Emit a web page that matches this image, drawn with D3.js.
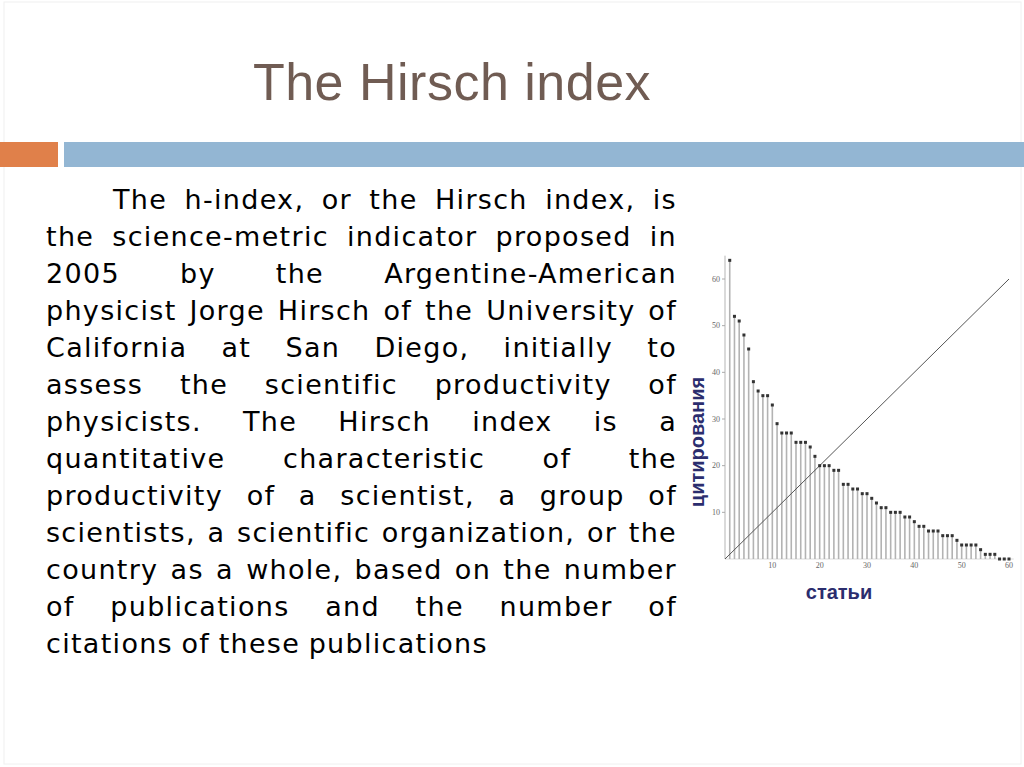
<!DOCTYPE html>
<html>
<head>
<meta charset="utf-8">
<script src="https://cdn.jsdelivr.net/npm/d3@7"></script>
<style>
  html, body { margin: 0; padding: 0; background: #fff; }
  svg { display: block; }
</style>
</head>
<body>
<svg id="slide" width="1024" height="767"></svg>
<script>
//data
const papers = d3.range(1, 61);
const citations = [64, 52, 51, 48, 45, 38, 36, 35, 35, 33,
                   29, 27, 27, 27, 25, 25, 25, 24, 22, 20,
                   20, 20, 19, 19, 16, 16, 15, 15, 14, 14,
                   13, 12, 11, 11, 10, 10, 10, 9, 9, 8,
                   7, 7, 6, 6, 6, 5, 5, 5, 4, 3,
                   3, 3, 3, 2, 1, 1, 1, 0, 0, 0];
const xTicks = [10, 20, 30, 40, 50, 60];
const yTicks = [10, 20, 30, 40, 50, 60];
const diagonal = [0, 60];
const title = "The Hirsch index";
const xLabel = "статьи";
const yLabel = "цитирования";
const textLines = [
  "The h-index, or the Hirsch index, is",
  "the science-metric indicator proposed in",
  "2005 by the Argentine-American",
  "physicist Jorge Hirsch of the University of",
  "California at San Diego, initially to",
  "assess the scientific productivity of",
  "physicists. The Hirsch index is a",
  "quantitative characteristic of the",
  "productivity of a scientist, a group of",
  "scientists, a scientific organization, or the",
  "country as a whole, based on the number",
  "of publications and the number of",
  "citations of these publications"
];

const svg = d3.select("#slide");

// faint slide frame
svg.append("rect")
  .attr("x", 4).attr("y", 2).attr("width", 1017).attr("height", 762)
  .attr("fill", "none").attr("stroke", "#f0f0f0").attr("stroke-width", 1);

// title + header bars
svg.append("text")
  .attr("x", 452).attr("y", 100)
  .attr("text-anchor", "middle")
  .attr("font-family", "'Liberation Sans', Arial, sans-serif")
  .attr("font-size", 52)
  .attr("letter-spacing", 0.5)
  .attr("fill", "#705c53")
  .text(title);

svg.append("rect").attr("x", 0).attr("y", 142).attr("width", 58).attr("height", 25).attr("fill", "#e0804a");
svg.append("rect").attr("x", 64).attr("y", 142).attr("width", 960).attr("height", 25).attr("fill", "#93b6d3");

// body text, justified line by line
const textLeft = 46, textRight = 677, indent = 113, firstBase = 209, lineGap = 37;
const lastLineWidth = 446; // width of the closing line in the slide
const body = svg.append("g")
  .attr("font-family", "'DejaVu Sans', sans-serif")
  .attr("font-size", 27)
  .attr("fill", "#000");

// widen letters a little so the closing line matches the slide
const probe = body.append("text").text(textLines[textLines.length - 1]);
const natural = probe.node().getComputedTextLength();
probe.remove();
const spacing = (lastLineWidth - natural) / textLines[textLines.length - 1].length;
body.attr("letter-spacing", spacing);

textLines.forEach((line, i) => {
  const words = line.split(" ");
  const y = firstBase + i * lineGap;
  const startX = i === 0 ? indent : textLeft;
  const nodes = words.map(w => body.append("text").attr("y", y).text(w));
  const widths = nodes.map(n => n.node().getComputedTextLength());
  const total = d3.sum(widths);
  let gap = 8.5;
  if (i < textLines.length - 1 && words.length > 1) {
    gap = (textRight - startX - total) / (words.length - 1);
  }
  let x = startX;
  nodes.forEach((n, k) => {
    n.attr("x", x);
    x += widths[k] + gap;
  });
});

// chart
const x = d3.scaleLinear().domain([0, 60]).range([725, 1009]);
const y = d3.scaleLinear().domain([0, 60]).range([559, 279]);

const chart = svg.append("g");

// y axis
chart.append("line")
  .attr("x1", x(0)).attr("x2", x(0))
  .attr("y1", y(0)).attr("y2", y(65))
  .attr("stroke", "#b5b5b5").attr("stroke-width", 1);

// x axis baseline
chart.append("line")
  .attr("x1", x(0)).attr("x2", x(61))
  .attr("y1", y(0)).attr("y2", y(0))
  .attr("stroke", "#dcdcdc").attr("stroke-width", 1);

chart.selectAll(".ytick")
  .data(yTicks)
  .enter()
  .append("line")
  .attr("class", "ytick")
  .attr("x1", x(0) - 3).attr("x2", x(0))
  .attr("y1", d => y(d)).attr("y2", d => y(d))
  .attr("stroke", "#aaa");

chart.selectAll(".ylab")
  .data(yTicks)
  .enter()
  .append("text")
  .attr("class", "ylab")
  .attr("x", x(0) - 5)
  .attr("y", d => y(d))
  .attr("dy", "0.35em")
  .attr("text-anchor", "end")
  .attr("font-family", "'Liberation Serif', 'DejaVu Serif', serif")
  .attr("font-size", 8)
  .attr("fill", "#666")
  .text(d => d);

chart.selectAll(".xlab")
  .data(xTicks)
  .enter()
  .append("text")
  .attr("class", "xlab")
  .attr("x", d => x(d))
  .attr("y", y(0) + 9)
  .attr("text-anchor", "middle")
  .attr("font-family", "'Liberation Serif', 'DejaVu Serif', serif")
  .attr("font-size", 8)
  .attr("fill", "#666")
  .text(d => d);

// stems
chart.selectAll(".stem")
  .data(citations)
  .enter()
  .append("line")
  .attr("class", "stem")
  .attr("x1", (d, i) => x(papers[i])).attr("x2", (d, i) => x(papers[i]))
  .attr("y1", y(0)).attr("y2", d => y(d))
  .attr("stroke", "#b3b3b3").attr("stroke-width", 1.6);

// h = n diagonal
chart.append("line")
  .attr("x1", x(diagonal[0])).attr("y1", y(diagonal[0]))
  .attr("x2", x(diagonal[1])).attr("y2", y(diagonal[1]))
  .attr("stroke", "#555").attr("stroke-width", 1);

// points
chart.selectAll(".pt")
  .data(citations)
  .enter()
  .append("rect")
  .attr("class", "pt")
  .attr("x", (d, i) => x(papers[i]) - 1.5)
  .attr("y", d => y(d) - 1.5)
  .attr("width", 3).attr("height", 3)
  .attr("fill", "#333");

// axis titles
chart.append("text")
  .attr("transform", `translate(704,442) rotate(-90)`)
  .attr("text-anchor", "middle")
  .attr("font-family", "'Liberation Sans', Arial, sans-serif")
  .attr("font-weight", "bold")
  .attr("font-size", 20)
  .attr("fill", "#2b2d6e")
  .text(yLabel);

chart.append("text")
  .attr("x", 839).attr("y", 599)
  .attr("text-anchor", "middle")
  .attr("font-family", "'Liberation Sans', Arial, sans-serif")
  .attr("font-weight", "bold")
  .attr("font-size", 20)
  .attr("fill", "#2b2d6e")
  .text(xLabel);
</script>
</body>
</html>
